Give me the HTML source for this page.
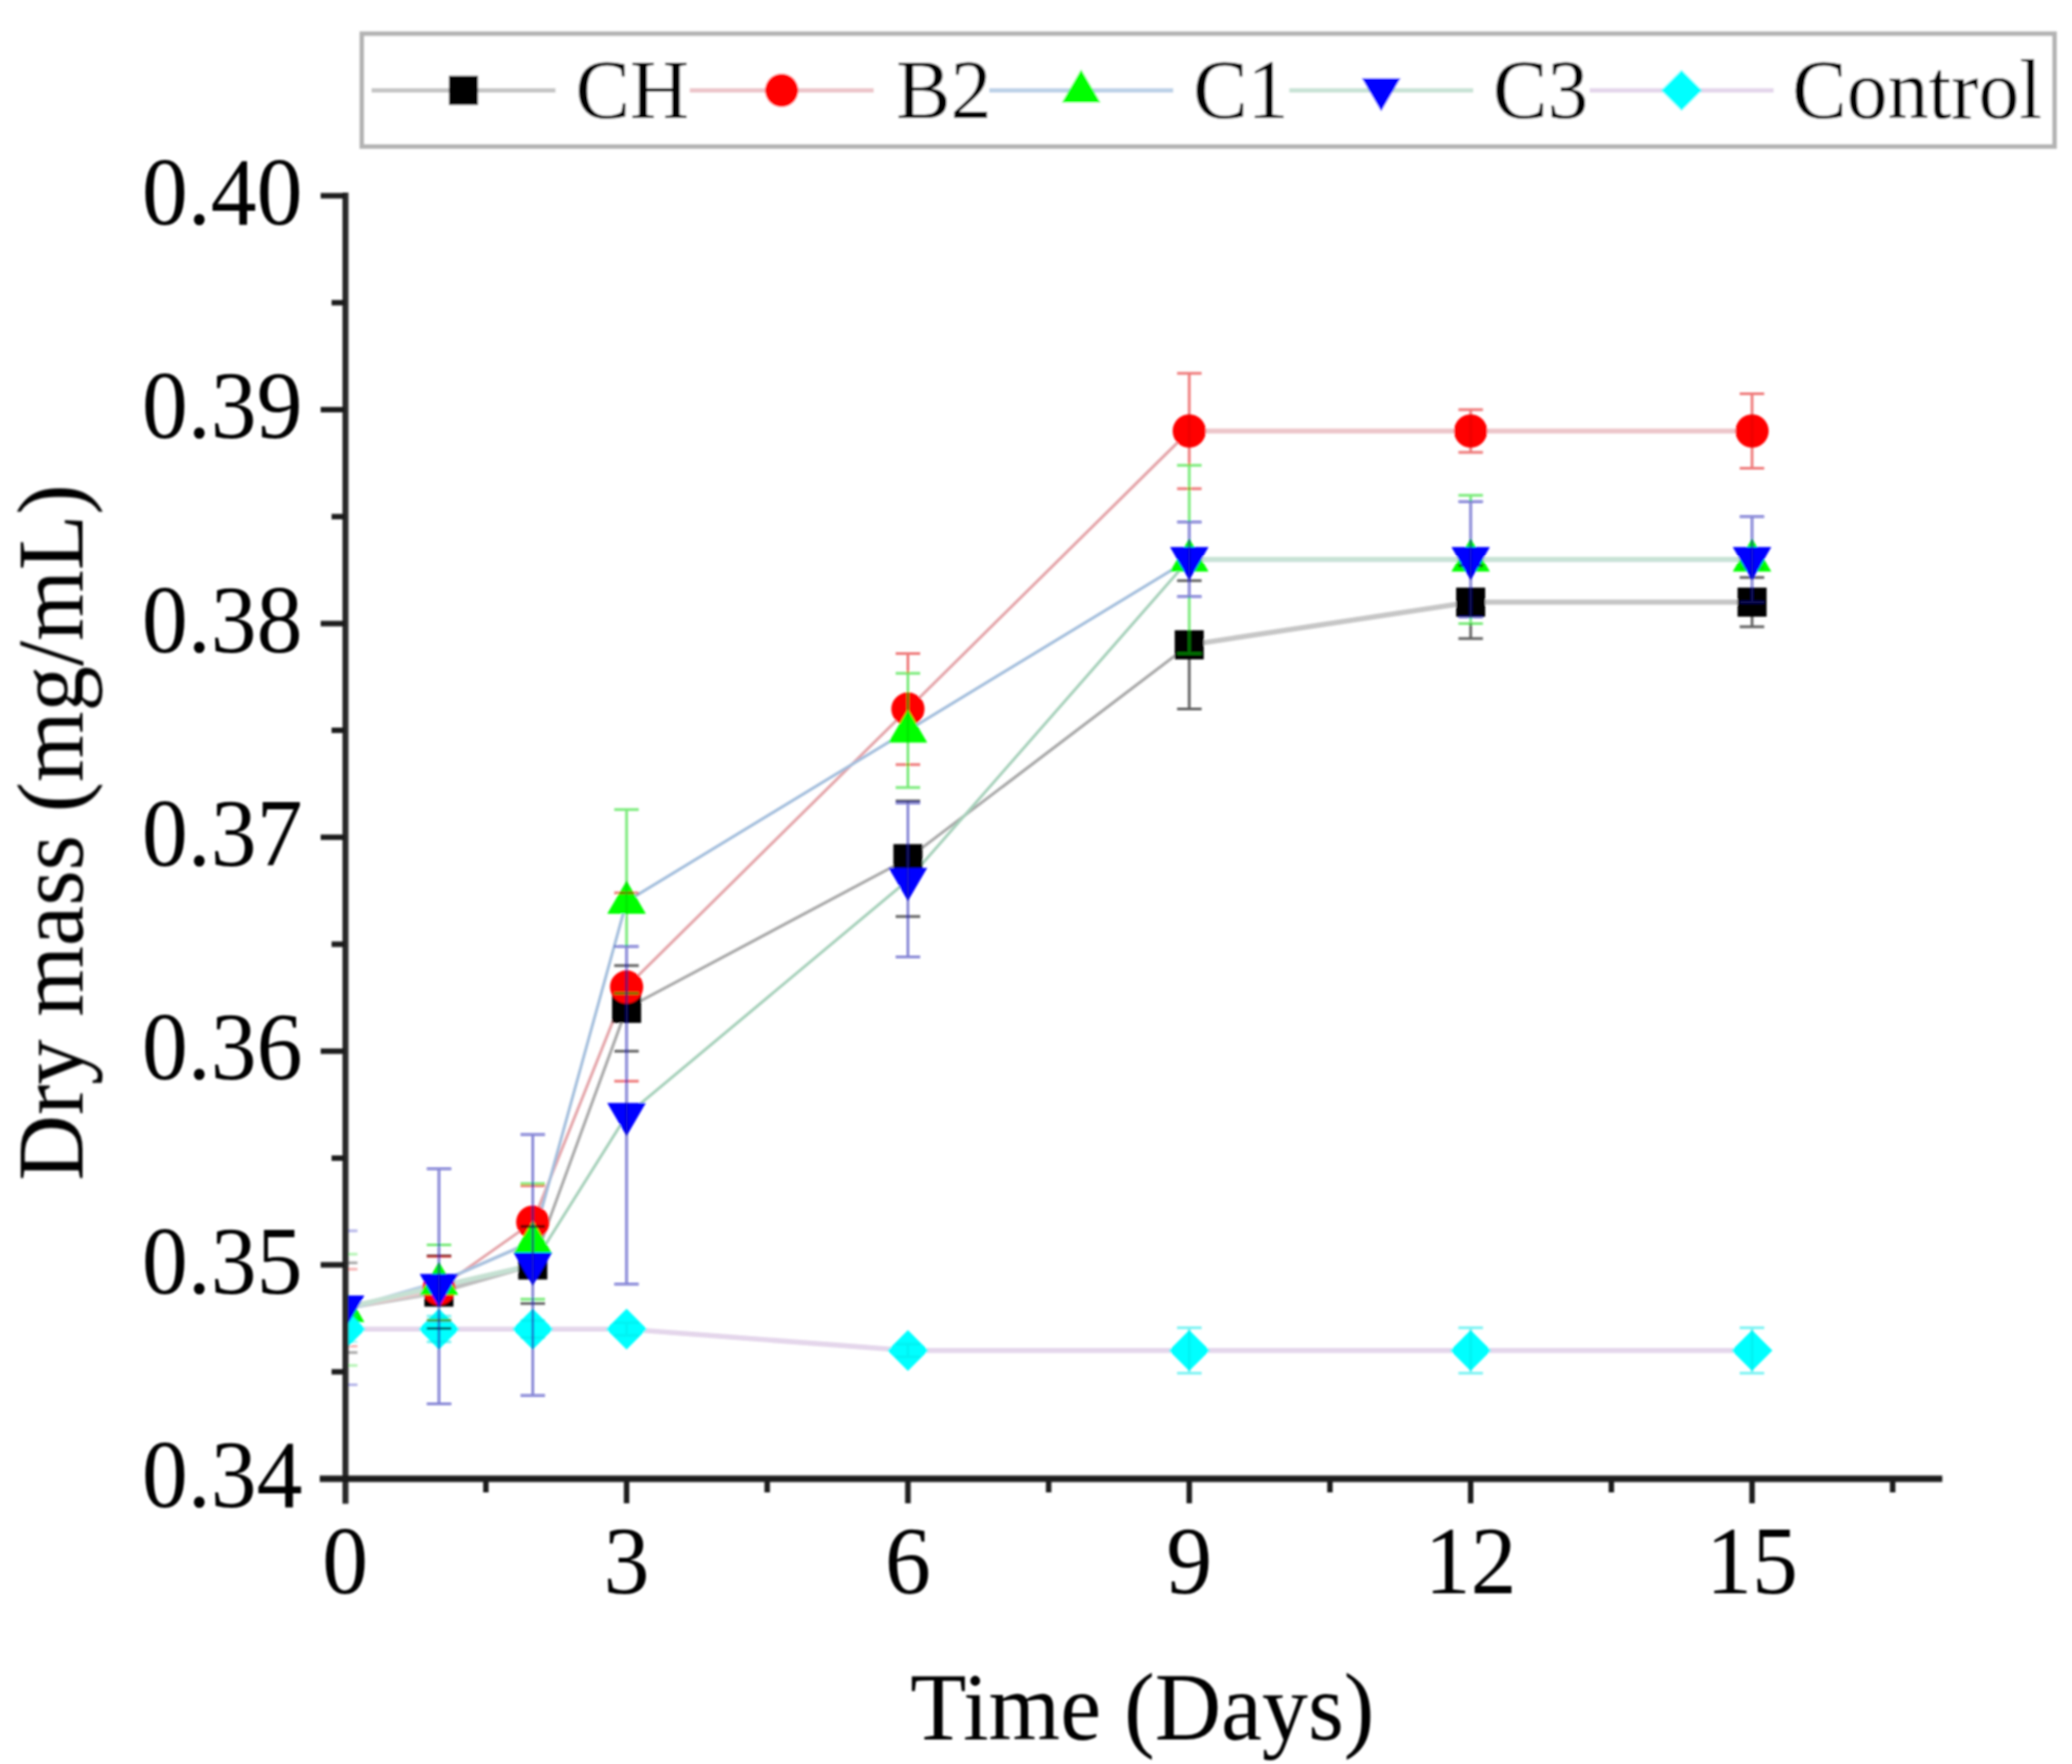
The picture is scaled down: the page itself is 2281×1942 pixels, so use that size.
<!DOCTYPE html>
<html lang="en"><head><meta charset="utf-8"><title>Dry mass vs time</title>
<style>html,body{margin:0;padding:0;background:#fff}body{width:2281px;height:1942px;overflow:hidden}svg{display:block}text{font-family:"Liberation Serif",serif;fill:#000}</style></head><body>
<svg width="2281" height="1942" viewBox="0 0 2281 1942">
<rect width="2281" height="1942" fill="#fff"/>
<g filter="url(#soft)">
<defs><filter id="soft" x="-2%" y="-2%" width="104%" height="104%"><feGaussianBlur stdDeviation="1.1"/></filter></defs>
<defs><clipPath id="plot"><rect x="380.0" y="150" width="1901.0" height="1478.0"/></clipPath></defs>
<g clip-path="url(#plot)">
<g fill="none" stroke-linecap="round">
<path d="M380.0,1439.7L483.2,1422.5" stroke="#c6c6c6" stroke-width="5.60"/>
<path d="M483.2,1422.5L586.5,1392.6" stroke="#bdbdbd" stroke-width="4.88"/>
<path d="M586.5,1392.6L689.8,1110.1" stroke="#a8a8a8" stroke-width="3.20"/>
<path d="M689.8,1110.1L999.5,945.3" stroke="#a8a8a8" stroke-width="3.20"/>
<path d="M999.5,945.3L1309.2,709.9" stroke="#a8a8a8" stroke-width="3.20"/>
<path d="M1309.2,709.9L1619.0,662.9" stroke="#c6c6c6" stroke-width="5.60"/>
<path d="M1619.0,662.9L1928.8,662.9" stroke="#c6c6c6" stroke-width="5.60"/>
<path d="M380.0,1439.7L483.2,1418.5" stroke="#edc5c9" stroke-width="5.56"/>
<path d="M483.2,1418.5L586.5,1345.5" stroke="#e4a4a9" stroke-width="3.20"/>
<path d="M586.5,1345.5L689.8,1086.6" stroke="#e4a4a9" stroke-width="3.20"/>
<path d="M689.8,1086.6L999.5,780.6" stroke="#e4a4a9" stroke-width="3.20"/>
<path d="M999.5,780.6L1309.2,474.5" stroke="#e4a4a9" stroke-width="3.20"/>
<path d="M1309.2,474.5L1619.0,474.5" stroke="#edc6ca" stroke-width="5.60"/>
<path d="M1619.0,474.5L1928.8,474.5" stroke="#edc6ca" stroke-width="5.60"/>
<path d="M380.0,1442.0L483.2,1411.9" stroke="#b5cce4" stroke-width="4.87"/>
<path d="M483.2,1411.9L586.5,1366.7" stroke="#a8c1de" stroke-width="3.70"/>
<path d="M586.5,1366.7L689.8,992.4" stroke="#a2bddc" stroke-width="3.20"/>
<path d="M689.8,992.4L999.5,804.1" stroke="#a2bddc" stroke-width="3.20"/>
<path d="M999.5,804.1L1309.2,615.8" stroke="#a2bddc" stroke-width="3.20"/>
<path d="M1309.2,615.8L1619.0,615.8" stroke="#bdd2e8" stroke-width="5.60"/>
<path d="M1619.0,615.8L1928.8,615.8" stroke="#bdd2e8" stroke-width="5.60"/>
<path d="M380.0,1439.7L483.2,1416.1" stroke="#c6e1d3" stroke-width="5.38"/>
<path d="M483.2,1416.1L586.5,1392.6" stroke="#c6e1d3" stroke-width="5.38"/>
<path d="M586.5,1392.6L689.8,1227.8" stroke="#a6d0ba" stroke-width="3.20"/>
<path d="M689.8,1227.8L999.5,968.9" stroke="#a6d0ba" stroke-width="3.20"/>
<path d="M999.5,968.9L1309.2,615.8" stroke="#a6d0ba" stroke-width="3.20"/>
<path d="M1309.2,615.8L1619.0,615.8" stroke="#c9e3d6" stroke-width="5.60"/>
<path d="M1619.0,615.8L1928.8,615.8" stroke="#c9e3d6" stroke-width="5.60"/>
<path d="M380.0,1463.2L483.2,1463.2" stroke="#e4d6eb" stroke-width="5.60"/>
<path d="M483.2,1463.2L586.5,1463.2" stroke="#e4d6eb" stroke-width="5.60"/>
<path d="M586.5,1463.2L689.8,1463.2" stroke="#e4d6eb" stroke-width="5.60"/>
<path d="M689.8,1463.2L999.5,1486.8" stroke="#e4d6eb" stroke-width="5.60"/>
<path d="M999.5,1486.8L1309.2,1486.8" stroke="#e4d6eb" stroke-width="5.60"/>
<path d="M1309.2,1486.8L1619.0,1486.8" stroke="#e4d6eb" stroke-width="5.60"/>
<path d="M1619.0,1486.8L1928.8,1486.8" stroke="#e4d6eb" stroke-width="5.60"/>
</g>
<g>
<rect x="467.2" y="1406.5" width="32" height="32" fill="#000000"/>
<rect x="570.5" y="1376.6" width="32" height="32" fill="#000000"/>
<rect x="673.8" y="1094.1" width="32" height="32" fill="#000000"/>
<rect x="983.5" y="929.3" width="32" height="32" fill="#000000"/>
<rect x="1293.2" y="693.9" width="32" height="32" fill="#000000"/>
<rect x="1603.0" y="646.9" width="32" height="32" fill="#000000"/>
<rect x="1912.8" y="646.9" width="32" height="32" fill="#000000"/>
<circle cx="483.2" cy="1418.5" r="18.3" fill="#ff0000"/>
<circle cx="586.5" cy="1345.5" r="18.3" fill="#ff0000"/>
<circle cx="689.8" cy="1086.6" r="18.3" fill="#ff0000"/>
<circle cx="999.5" cy="780.6" r="18.3" fill="#ff0000"/>
<circle cx="1309.2" cy="474.5" r="18.3" fill="#ff0000"/>
<circle cx="1619.0" cy="474.5" r="18.3" fill="#ff0000"/>
<circle cx="1928.8" cy="474.5" r="18.3" fill="#ff0000"/>
<polygon points="380.0,1419.0 401.2,1455.5 358.8,1455.5" fill="#00ff00"/>
<polygon points="483.2,1388.9 504.5,1425.4 462.0,1425.4" fill="#00ff00"/>
<polygon points="586.5,1343.7 607.8,1380.2 565.2,1380.2" fill="#00ff00"/>
<polygon points="689.8,969.4 711.0,1005.9 668.5,1005.9" fill="#00ff00"/>
<polygon points="999.5,781.1 1020.8,817.6 978.2,817.6" fill="#00ff00"/>
<polygon points="1309.2,592.8 1330.5,629.3 1288.0,629.3" fill="#00ff00"/>
<polygon points="1619.0,592.8 1640.2,629.3 1597.8,629.3" fill="#00ff00"/>
<polygon points="1928.8,592.8 1950.0,629.3 1907.5,629.3" fill="#00ff00"/>
<polygon points="380.0,1440.7 402.5,1463.2 380.0,1485.7 357.5,1463.2" fill="#00ffff"/>
<polygon points="483.2,1440.7 505.8,1463.2 483.2,1485.7 460.8,1463.2" fill="#00ffff"/>
<polygon points="586.5,1440.7 609.0,1463.2 586.5,1485.7 564.0,1463.2" fill="#00ffff"/>
<polygon points="689.8,1440.7 712.2,1463.2 689.8,1485.7 667.2,1463.2" fill="#00ffff"/>
<polygon points="999.5,1464.3 1022.0,1486.8 999.5,1509.3 977.0,1486.8" fill="#00ffff"/>
<polygon points="1309.2,1464.3 1331.8,1486.8 1309.2,1509.3 1286.8,1486.8" fill="#00ffff"/>
<polygon points="1619.0,1464.3 1641.5,1486.8 1619.0,1509.3 1596.5,1486.8" fill="#00ffff"/>
<polygon points="1928.8,1464.3 1951.2,1486.8 1928.8,1509.3 1906.2,1486.8" fill="#00ffff"/>
</g><g>
<path d="M366.5,1390.2H393.5M366.5,1489.1H393.5" stroke="#000000" stroke-width="3.0" stroke-opacity="0.34" fill="none"/>
<path d="M469.8,1382.5H496.8M469.8,1462.5H496.8" stroke="#000000" stroke-width="3.0" stroke-opacity="0.62" fill="none"/>
<path d="M573.0,1350.2H600.0M573.0,1435.0H600.0" stroke="#000000" stroke-width="3.0" stroke-opacity="0.62" fill="none"/>
<path d="M676.2,1063.0H703.2M676.2,1157.2H703.2" stroke="#000000" stroke-width="3.0" stroke-opacity="0.62" fill="none"/>
<path d="M999.5,881.8V884.1M986.0,881.8H1013.0M986.0,1008.9H1013.0" stroke="#000000" stroke-width="3.0" stroke-opacity="0.62" fill="none"/>
<path d="M1309.2,719.4V780.6M1295.8,639.3H1322.8M1295.8,780.6H1322.8" stroke="#000000" stroke-width="3.0" stroke-opacity="0.62" fill="none"/>
<path d="M1619.0,686.4V702.9M1605.5,622.8H1632.5M1605.5,702.9H1632.5" stroke="#000000" stroke-width="3.0" stroke-opacity="0.62" fill="none"/>
<path d="M1928.8,662.9V689.9M1915.2,635.8H1942.2M1915.2,689.9H1942.2" stroke="#000000" stroke-width="3.0" stroke-opacity="0.62" fill="none"/>
<path d="M366.5,1397.3H393.5M366.5,1482.1H393.5" stroke="#e00000" stroke-width="3.0" stroke-opacity="0.29" fill="none"/>
<path d="M469.8,1383.2H496.8M469.8,1453.8H496.8" stroke="#e00000" stroke-width="3.0" stroke-opacity="0.52" fill="none"/>
<path d="M573.0,1305.5H600.0M573.0,1385.5H600.0" stroke="#e00000" stroke-width="3.0" stroke-opacity="0.52" fill="none"/>
<path d="M676.2,983.0H703.2M676.2,1190.2H703.2" stroke="#e00000" stroke-width="3.0" stroke-opacity="0.52" fill="none"/>
<path d="M999.5,719.4V741.2M986.0,719.4H1013.0M986.0,841.8H1013.0" stroke="#e00000" stroke-width="3.0" stroke-opacity="0.52" fill="none"/>
<path d="M1309.2,411.0V512.2M1295.8,411.0H1322.8M1295.8,538.1H1322.8" stroke="#e00000" stroke-width="3.0" stroke-opacity="0.52" fill="none"/>
<path d="M1619.0,451.0V498.1M1605.5,451.0H1632.5M1605.5,498.1H1632.5" stroke="#e00000" stroke-width="3.0" stroke-opacity="0.52" fill="none"/>
<path d="M1928.8,433.6V515.5M1915.2,433.6H1942.2M1915.2,515.5H1942.2" stroke="#e00000" stroke-width="3.0" stroke-opacity="0.52" fill="none"/>
<path d="M366.5,1380.8H393.5M366.5,1503.2H393.5" stroke="#00d800" stroke-width="3.0" stroke-opacity="0.29" fill="none"/>
<path d="M469.8,1370.5H496.8M469.8,1453.3H496.8" stroke="#00d800" stroke-width="3.0" stroke-opacity="0.52" fill="none"/>
<path d="M573.0,1303.1H600.0M573.0,1430.3H600.0" stroke="#00d800" stroke-width="3.0" stroke-opacity="0.52" fill="none"/>
<path d="M689.8,891.2V1041.9M676.2,891.2H703.2M676.2,1093.6H703.2" stroke="#00d800" stroke-width="3.0" stroke-opacity="0.52" fill="none"/>
<path d="M999.5,741.2V867.0M986.0,741.2H1013.0M986.0,867.0H1013.0" stroke="#00d800" stroke-width="3.0" stroke-opacity="0.52" fill="none"/>
<path d="M1309.2,512.2V574.8M1309.2,656.7V719.4M1295.8,512.2H1322.8M1295.8,719.4H1322.8" stroke="#00d800" stroke-width="3.0" stroke-opacity="0.52" fill="none"/>
<path d="M1619.0,545.2V552.2M1619.0,679.3V686.4M1605.5,545.2H1632.5M1605.5,686.4H1632.5" stroke="#00d800" stroke-width="3.0" stroke-opacity="0.52" fill="none"/>
<path d="M1915.2,606.4H1942.2M1915.2,625.2H1942.2" stroke="#00d800" stroke-width="3.0" stroke-opacity="0.52" fill="none"/>
<path d="M366.5,1449.1H393.5M366.5,1477.3H393.5" stroke="#00e8e8" stroke-width="3.0" stroke-opacity="0.29" fill="none"/>
<path d="M469.8,1449.1H496.8M469.8,1477.3H496.8" stroke="#00e8e8" stroke-width="3.0" stroke-opacity="0.52" fill="none"/>
<path d="M573.0,1453.8H600.0M573.0,1472.6H600.0" stroke="#00e8e8" stroke-width="3.0" stroke-opacity="0.52" fill="none"/>
<path d="M689.8,1456.2V1470.3M676.2,1456.2H703.2M676.2,1470.3H703.2" stroke="#00e8e8" stroke-width="3.0" stroke-opacity="0.52" fill="none"/>
<path d="M999.5,1479.7V1493.8M986.0,1479.7H1013.0M986.0,1493.8H1013.0" stroke="#00e8e8" stroke-width="3.0" stroke-opacity="0.52" fill="none"/>
<path d="M1309.2,1461.8V1511.7M1295.8,1461.8H1322.8M1295.8,1511.7H1322.8" stroke="#00e8e8" stroke-width="3.0" stroke-opacity="0.52" fill="none"/>
<path d="M1619.0,1461.8V1511.7M1605.5,1461.8H1632.5M1605.5,1511.7H1632.5" stroke="#00e8e8" stroke-width="3.0" stroke-opacity="0.52" fill="none"/>
<path d="M1928.8,1461.8V1511.7M1915.2,1461.8H1942.2M1915.2,1511.7H1942.2" stroke="#00e8e8" stroke-width="3.0" stroke-opacity="0.52" fill="none"/>
</g><g>
<polygon points="380.0,1462.7 401.2,1426.2 358.8,1426.2" fill="#0000ff"/>
<polygon points="483.2,1439.1 504.5,1402.6 462.0,1402.6" fill="#0000ff"/>
<polygon points="586.5,1415.6 607.8,1379.1 565.2,1379.1" fill="#0000ff"/>
<polygon points="689.8,1250.8 711.0,1214.3 668.5,1214.3" fill="#0000ff"/>
<polygon points="999.5,991.9 1020.8,955.4 978.2,955.4" fill="#0000ff"/>
<polygon points="1309.2,638.8 1330.5,602.3 1288.0,602.3" fill="#0000ff"/>
<polygon points="1619.0,638.8 1640.2,602.3 1597.8,602.3" fill="#0000ff"/>
<polygon points="1928.8,638.8 1950.0,602.3 1907.5,602.3" fill="#0000ff"/>
<path d="M380.0,1354.9V1524.4M366.5,1354.9H393.5M366.5,1524.4H393.5" stroke="#1010b0" stroke-width="3.0" stroke-opacity="0.29" fill="none"/>
<path d="M483.2,1286.7V1545.6M469.8,1286.7H496.8M469.8,1545.6H496.8" stroke="#1010b0" stroke-width="3.0" stroke-opacity="0.52" fill="none"/>
<path d="M586.5,1249.0V1536.2M573.0,1249.0H600.0M573.0,1536.2H600.0" stroke="#1010b0" stroke-width="3.0" stroke-opacity="0.52" fill="none"/>
<path d="M689.8,1041.9V1413.8M676.2,1041.9H703.2M676.2,1413.8H703.2" stroke="#1010b0" stroke-width="3.0" stroke-opacity="0.52" fill="none"/>
<path d="M999.5,884.1V1053.6M986.0,884.1H1013.0M986.0,1053.6H1013.0" stroke="#1010b0" stroke-width="3.0" stroke-opacity="0.52" fill="none"/>
<path d="M1309.2,574.8V656.7M1295.8,574.8H1322.8M1295.8,656.7H1322.8" stroke="#1010b0" stroke-width="3.0" stroke-opacity="0.52" fill="none"/>
<path d="M1619.0,552.2V679.3M1605.5,552.2H1632.5M1605.5,679.3H1632.5" stroke="#1010b0" stroke-width="3.0" stroke-opacity="0.52" fill="none"/>
<path d="M1928.8,568.7V662.9M1915.2,568.7H1942.2M1915.2,662.9H1942.2" stroke="#1010b0" stroke-width="3.0" stroke-opacity="0.52" fill="none"/>
</g>
</g>
<g stroke="#1c1c1c" stroke-width="6" fill="none" stroke-linecap="butt">
<path d="M380.3,212.1V1655.5" stroke="#2a2a2a" stroke-width="6.6"/>
<path d="M352.0,1628.0H2138.2" stroke-width="7"/>
<path d="M365.0,1510.3H380.0M353.0,1392.6H380.0M365.0,1274.9H380.0M353.0,1157.2H380.0M365.0,1039.5H380.0M353.0,921.8H380.0M365.0,804.1H380.0M353.0,686.4H380.0M365.0,568.7H380.0M353.0,451.0H380.0M365.0,333.3H380.0M353.0,215.6H380.0"/>
<path d="M534.9,1628.0V1643.0M689.8,1628.0V1655.0M844.6,1628.0V1643.0M999.5,1628.0V1655.0M1154.4,1628.0V1643.0M1309.2,1628.0V1655.0M1464.1,1628.0V1643.0M1619.0,1628.0V1655.0M1773.9,1628.0V1643.0M1928.8,1628.0V1655.0M2083.6,1628.0V1643.0"/>
</g>
<text transform="translate(333.0,1659.2) scale(1,1.04)" font-size="101" text-anchor="end">0.34</text>
<text transform="translate(333.0,1423.8) scale(1,1.04)" font-size="101" text-anchor="end">0.35</text>
<text transform="translate(333.0,1188.4) scale(1,1.04)" font-size="101" text-anchor="end">0.36</text>
<text transform="translate(333.0,953.0) scale(1,1.04)" font-size="101" text-anchor="end">0.37</text>
<text transform="translate(333.0,717.6) scale(1,1.04)" font-size="101" text-anchor="end">0.38</text>
<text transform="translate(333.0,482.2) scale(1,1.04)" font-size="101" text-anchor="end">0.39</text>
<text transform="translate(333.0,246.8) scale(1,1.04)" font-size="101" text-anchor="end">0.40</text>
<text transform="translate(380.0,1753.8) scale(1,1.04)" font-size="101" text-anchor="middle">0</text>
<text transform="translate(689.8,1753.8) scale(1,1.04)" font-size="101" text-anchor="middle">3</text>
<text transform="translate(999.5,1753.8) scale(1,1.04)" font-size="101" text-anchor="middle">6</text>
<text transform="translate(1309.2,1753.8) scale(1,1.04)" font-size="101" text-anchor="middle">9</text>
<text transform="translate(1619.0,1753.8) scale(1,1.04)" font-size="101" text-anchor="middle">12</text>
<text transform="translate(1928.8,1753.8) scale(1,1.04)" font-size="101" text-anchor="middle">15</text>
<text transform="translate(1257.5,1914.6) scale(1,1.035)" font-size="101.3" text-anchor="middle">Time (Days)</text>
<text transform="translate(91.0,916.5) rotate(-90) scale(1,1.035)" font-size="100" text-anchor="middle">Dry mass (mg/mL)</text>
<g>
<rect x="398.3" y="37.1" width="1863.5" height="124.2" fill="#fff" stroke="#b3b3b3" stroke-width="5"/>
<path d="M409,99.5H611.5" stroke="#c6c6c6" stroke-width="5" fill="none"/>
<rect x="494.2" y="83.5" width="32" height="32" fill="#000000"/>
<text transform="translate(633.5,130.2) scale(1,1.03)" font-size="90" text-anchor="start">CH</text>
<path d="M759.3,99.5H961.8" stroke="#edc6ca" stroke-width="5" fill="none"/>
<circle cx="860.5" cy="99.5" r="18.3" fill="#ff0000"/>
<text transform="translate(986.5,130.2) scale(1,1.03)" font-size="90" text-anchor="start">B2</text>
<path d="M1089,99.5H1291.5" stroke="#bdd2e8" stroke-width="5" fill="none"/>
<polygon points="1190.2,76.5 1211.5,113.0 1169.0,113.0" fill="#00ff00"/>
<text transform="translate(1313.5,130.2) scale(1,1.03)" font-size="90" text-anchor="start">C1</text>
<path d="M1419.3,99.5H1621.8" stroke="#c9e3d6" stroke-width="5" fill="none"/>
<polygon points="1520.5,122.5 1541.8,86.0 1499.2,86.0" fill="#0000ff"/>
<text transform="translate(1643.5,130.2) scale(1,1.03)" font-size="90" text-anchor="start">C3</text>
<path d="M1750,99.5H1952.5" stroke="#e4d6eb" stroke-width="5" fill="none"/>
<polygon points="1851.2,77.0 1873.7,99.5 1851.2,122.0 1828.7,99.5" fill="#00ffff"/>
<text transform="translate(1973.1,130.2) scale(1,1.03)" font-size="90" text-anchor="start">Control</text>
</g>
</g>
</svg></body></html>
